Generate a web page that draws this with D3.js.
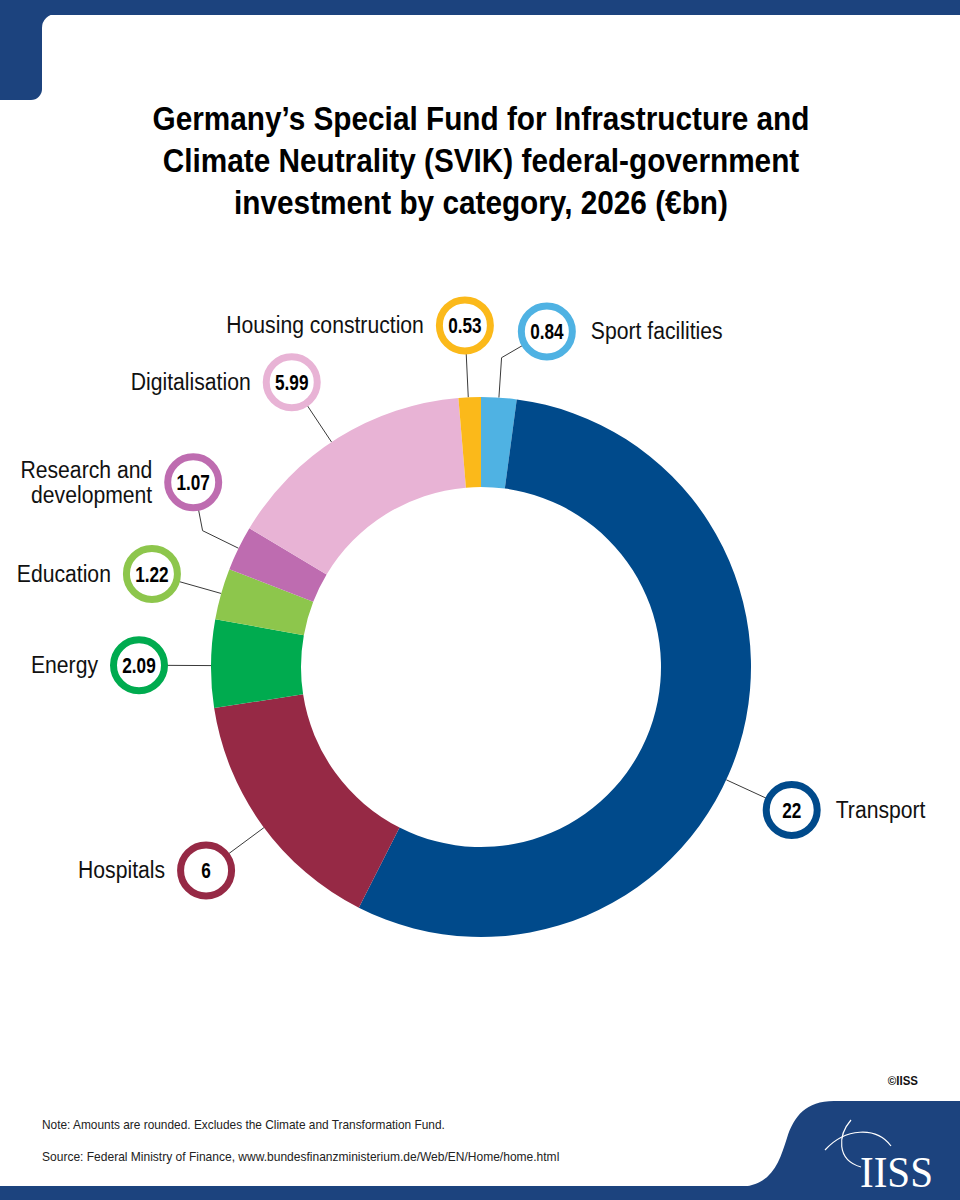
<!DOCTYPE html>
<html>
<head>
<meta charset="utf-8">
<script src="https://cdn.jsdelivr.net/npm/d3@7"></script>
<style>
  html, body { margin: 0; padding: 0; background: #fff; }
  svg { display: block; }
</style>
</head>
<body>
<div id="chart"></div>
<script>
// data, clockwise from 12 o'clock
const categories = ["Sport facilities", "Transport", "Hospitals", "Energy", "Education",
  "Research and\ndevelopment", "Digitalisation", "Housing construction"];
const values = [0.84, 22, 6, 2.09, 1.22, 1.07, 5.99, 0.53];
const valueLabels = ["0.84", "22", "6", "2.09", "1.22", "1.07", "5.99", "0.53"];
const colors = ["#4fb2e3", "#004a8b", "#962945", "#00ab4f", "#8dc64c", "#be6cb0", "#e8b3d5", "#fbb91a"];
// where each value bubble sits around the ring (degrees clockwise from top)
const bubbleAngles = [11.1, 114.7, 233.5, 270.3, 285.8, 302.7, 326.4, 357.3];

const W = 960, H = 1200;
const cx = 481, cy = 667;
const rOuter = 270, rInner = 180, rBubble = 342, rElbow = 310;
const navy = "#1c437e";
const font = "'Liberation Sans', Arial, sans-serif";

// squeeze text horizontally to mimic the condensed face of the original
function condense(sel, k) {
  sel.each(function () {
    const len = this.getComputedTextLength();
    d3.select(this).attr("textLength", len * k).attr("lengthAdjust", "spacingAndGlyphs");
  });
}

const svg = d3.select("#chart").append("svg").attr("width", W).attr("height", H)
  .attr("viewBox", `0 0 ${W} ${H}`);

// frame
svg.append("rect").attr("x", 0).attr("y", 0).attr("width", W).attr("height", 15).attr("fill", navy);
svg.append("path").attr("fill", navy)
  .attr("d", "M0,0 H42 V89 A11,11 0 0 1 31,100 H0 Z");
svg.append("path").attr("fill", navy)
  .attr("d", "M42,14 H56 A14,14 0 0 0 42,28 Z");
svg.append("rect").attr("x", 0).attr("y", 1186).attr("width", W).attr("height", 14).attr("fill", navy);
svg.append("path").attr("fill", navy)
  .attr("d", "M960,1101 H834 C806,1101 794,1116 787,1138 C779,1163 772,1186 738,1187 H960 Z");

// logo
const logo = svg.append("g");
logo.append("text").attr("x", 860).attr("y", 1187)
  .attr("font-family", "'Liberation Serif', 'DejaVu Serif', serif").attr("font-size", 44)
  .attr("fill", "#fff").attr("textLength", 73).attr("lengthAdjust", "spacingAndGlyphs").text("IISS");
logo.append("path").attr("fill", "none").attr("stroke", "#fff").attr("stroke-width", 1.2)
  .attr("d", "M851,1120 C838,1135 836,1160 861,1167");
logo.append("path").attr("fill", "none").attr("stroke", "#fff").attr("stroke-width", 1.2)
  .attr("d", "M825,1150 C845,1128 876,1126 891,1146");

// title
const titleLines = ["Germany\u2019s Special Fund for Infrastructure and",
  "Climate Neutrality (SVIK) federal-government",
  "investment by category, 2026 (\u20acbn)"];
svg.append("g").selectAll("text").data(titleLines).join("text")
  .attr("x", cx).attr("y", (d, i) => 130 + i * 42).attr("text-anchor", "middle")
  .attr("font-family", font).attr("font-weight", 700).attr("font-size", 34)
  .attr("fill", "#000").text(d => d)
  .call(condense, 0.875);

// donut
const data = categories.map((c, i) => ({
  name: c, value: values[i], label: valueLabels[i], color: colors[i], bubble: bubbleAngles[i] * Math.PI / 180
}));
const pie = d3.pie().sort(null).value(d => d.value);
const arcs = pie(data);
const arc = d3.arc().innerRadius(rInner).outerRadius(rOuter);

const g = svg.append("g").attr("transform", `translate(${cx},${cy})`);
const polar = (a, r) => [r * Math.sin(a), -r * Math.cos(a)];

// leader lines
const leaders = g.append("g");
arcs.forEach(a => {
  const b = a.data.bubble;
  const end = polar(b, rBubble);
  let pts;
  if (b >= a.startAngle && b <= a.endAngle) {
    pts = [polar(b, rOuter), end];
  } else {
    const mid = (a.startAngle + a.endAngle) / 2;
    pts = [polar(mid, rOuter), polar(mid, rElbow), end];
  }
  leaders.append("path").attr("d", d3.line()(pts))
    .attr("fill", "none").attr("stroke", "#3a3a3a").attr("stroke-width", 1);
});

g.append("g").selectAll("path").data(arcs).join("path")
  .attr("d", arc).attr("fill", d => d.data.color);

// bubbles and labels
const bub = g.append("g").selectAll("g").data(arcs).join("g")
  .attr("transform", d => `translate(${polar(d.data.bubble, rBubble)})`);
bub.append("circle").attr("r", 25.5).attr("fill", "#fff")
  .attr("stroke", d => d.data.color).attr("stroke-width", 7);
bub.append("text").attr("text-anchor", "middle").attr("dy", "0.36em")
  .attr("font-family", font).attr("font-weight", 700).attr("font-size", 22)
  .attr("fill", "#000").text(d => d.data.label)
  .call(condense, 0.78);

bub.each(function (d) {
  const right = Math.sin(d.data.bubble) > 0;
  const lines = d.data.name.split("\n");
  const t = d3.select(this).append("text")
    .attr("text-anchor", right ? "start" : "end")
    .attr("font-family", font).attr("font-size", 23).attr("fill", "#111");
  lines.forEach((ln, i) => {
    t.append("tspan").attr("x", right ? 44 : -41)
      .attr("y", (i - (lines.length - 1) / 2) * 25).attr("dy", "0.35em").text(ln);
  });
  t.selectAll("tspan").call(condense, 0.92);
});

// notes
svg.append("text").attr("x", 918).attr("y", 1085).attr("text-anchor", "end")
  .attr("font-family", font).attr("font-weight", 700).attr("font-size", 13.5)
  .attr("fill", "#111").text("\u00a9IISS").call(condense, 0.85);
svg.append("text").attr("x", 42).attr("y", 1129)
  .attr("font-family", font).attr("font-size", 13.5).attr("fill", "#222")
  .text("Note: Amounts are rounded. Excludes the Climate and Transformation Fund.")
  .call(condense, 0.88);
svg.append("text").attr("x", 42).attr("y", 1161)
  .attr("font-family", font).attr("font-size", 13.5).attr("fill", "#222")
  .text("Source: Federal Ministry of Finance, www.bundesfinanzministerium.de/Web/EN/Home/home.html")
  .call(condense, 0.89);
</script>
</body>
</html>
